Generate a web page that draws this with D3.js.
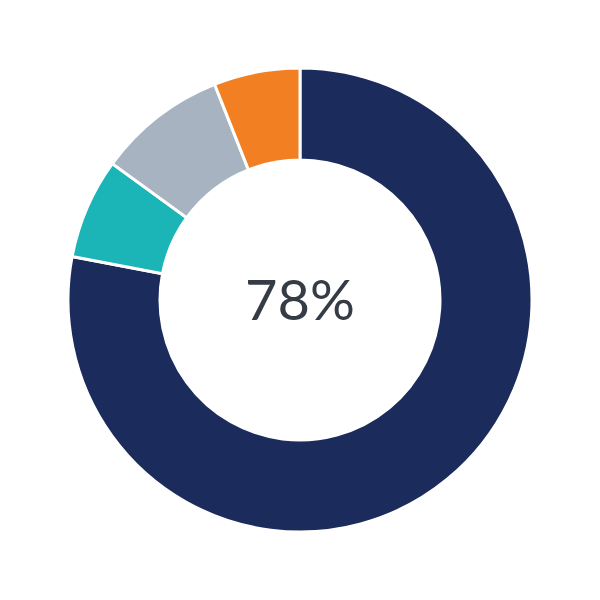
<!DOCTYPE html>
<html>
<head>
<meta charset="utf-8">
<script src="https://cdn.jsdelivr.net/npm/d3@7"></script>
<style>
  body { margin: 0; background: #fff; }
</style>
</head>
<body>
<svg id="chart" width="600" height="600"></svg>
<script>
const width = 600;
const height = 600;

const categories = ["Navy", "Teal", "Gray", "Orange"];
const values = [78, 7, 9, 6];
const colors = ["#1b2b5b", "#1bb5b8", "#a8b3c1", "#f27f22"];
const centerLabel = "78%";

const outerRadius = 232;
const innerRadius = 140;

const svg = d3.select("#chart")
  .attr("viewBox", [0, 0, width, height]);

const g = svg.append("g")
  .attr("transform", `translate(${width / 2},${height / 2})`);

const pie = d3.pie()
  .sort(null)
  .value(d => d.value);

const arc = d3.arc()
  .innerRadius(innerRadius)
  .outerRadius(outerRadius);

const data = categories.map((c, i) => ({ name: c, value: values[i], color: colors[i] }));

g.selectAll("path")
  .data(pie(data))
  .join("path")
  .attr("d", arc)
  .attr("fill", d => d.data.color)
  .attr("stroke", "#fff")
  .attr("stroke-width", 3);

g.append("text")
  .attr("x", 0)
  .attr("y", 0)
  .attr("dy", "0.35em")
  .attr("text-anchor", "middle")
  .attr("font-family", "Lato, 'Open Sans', sans-serif")
  .attr("font-size", 56)
  .attr("fill", "#363c46")
  .text(centerLabel);
</script>
</body>
</html>
